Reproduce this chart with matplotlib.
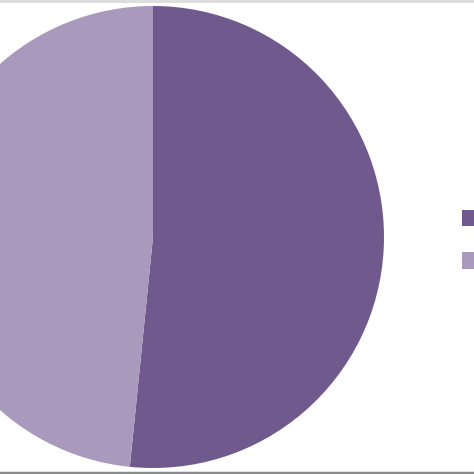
import matplotlib
matplotlib.use("Agg")
import matplotlib.pyplot as plt
from matplotlib.lines import Line2D

# Данні для кругової діаграми
labels = ["Series A", "Series B"]
values = [51.6, 48.4]
colors = ["#6f598d", "#a899bd"]

W = 474
fig = plt.figure(figsize=(4.74, 4.74), dpi=100)

# Осі підібрані так, щоб центр кола був ліворуч (частково обрізаний)
cx, cy, r = 153, 237, 231
ax = fig.add_axes([(cx - r) / W, (W - cy - r) / W, 2 * r / W, 2 * r / W])
wedges, _ = ax.pie(values, colors=colors, startangle=90, counterclock=False,
                   radius=1, wedgeprops=dict(linewidth=0))
ax.set_xlim(-1, 1)
ax.set_ylim(-1, 1)
ax.set_aspect("equal")
ax.axis("off")

# Легенда праворуч, підписи виходять за межі малюнка
leg = fig.legend(wedges, labels, loc="center left",
                 bbox_to_anchor=(448 / W, 0.5 - 2.5 / W), frameon=False,
                 handlelength=0.9, handleheight=1.25, fontsize=11,
                 labelspacing=1.7, handletextpad=0.6)

# Тонкі сірі лінії зверху та знизу
fig.add_artist(Line2D([0, 1], [1 - 1 / W, 1 - 1 / W], color="#dcdcdc", lw=2))
fig.add_artist(Line2D([0, 1], [1 / W, 1 / W], color="#8c8c8c", lw=2.5))

fig.savefig("out.png", dpi=100)
